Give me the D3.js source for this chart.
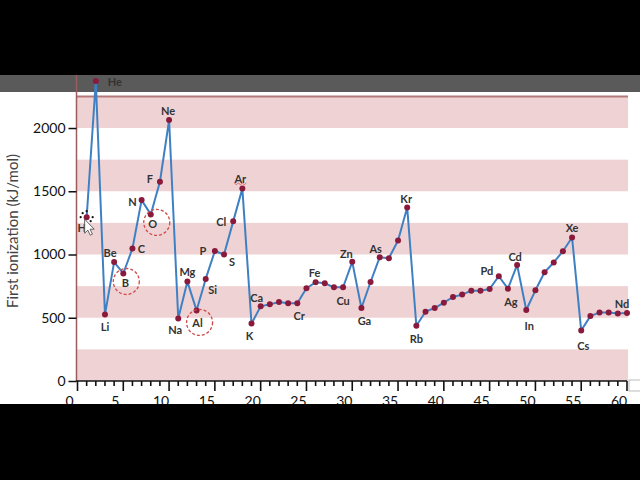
<!DOCTYPE html>
<html>
<head>
<meta charset="utf-8">
<script src="https://cdn.jsdelivr.net/npm/d3@7"></script>
<style>
  html, body { margin: 0; padding: 0; background: #fff; }
  svg { display: block; }
</style>
</head>
<body>
<svg id="chart" width="640" height="480"></svg>
<script>
// ---- data ----
const atomicNumbers = d3.range(1, 61);
const symbols = ["H","He","Li","Be","B","C","N","O","F","Ne",
  "Na","Mg","Al","Si","P","S","Cl","Ar","K","Ca",
  "Sc","Ti","V","Cr","Mn","Fe","Co","Ni","Cu","Zn",
  "Ga","Ge","As","Se","Br","Kr","Rb","Sr","Y","Zr",
  "Nb","Mo","Tc","Ru","Rh","Pd","Ag","Cd","In","Sn",
  "Sb","Te","I","Xe","Cs","Ba","La","Ce","Pr","Nd"];
const energies = [1295,2372,525,940,850,1048,1430,1317,1575,2063,
  494,786,558,807,1028,1000,1262,1521,455,590,
  606,625,614,614,733,780,772,741,741,942,
  577,783,979,971,1111,1371,437,548,577,619,
  664,683,714,714,728,828,730,918,561,717,
  860,937,1026,1135,399,513,542,542,534,537];
const labeledSymbols = ["H","He","Li","Be","B","C","N","O","F","Ne","Na","Mg","Al","Si","P","S","Cl","Ar",
  "K","Ca","Cr","Fe","Cu","Zn","Ga","As","Kr","Rb","Pd","Ag","Cd","In","Xe","Cs","Nd"];
const circledSymbols = ["B","O","Al"];
const yTicks = [0, 500, 1000, 1500, 2000];
const xTicks = [0,5,10,15,20,25,30,35,40,45,50,55,60];
const bandStarts = [0, 500, 1000, 1500, 2000];
const yTitle = "First ionization (kJ/mol)";

// ---- layout / style config (not data) ----
const labelOffset = {
  H:[-5,11], He:[19,1], Li:[0,12], Be:[-4,-9], B:[2,10], C:[9,1], N:[-9,2], O:[2,10], F:[-10,-3], Ne:[-1,-9],
  Na:[-3,11], Mg:[0,-10], Al:[1,13], Si:[7,11], P:[-12,0], S:[8,7], Cl:[-12,1], Ar:[-2,-10],
  K:[-2,13], Ca:[-4,-8], Cr:[2,13], Fe:[-1,-9], Cu:[0,14], Zn:[-6,-8], Ga:[3,13], As:[-4,-8],
  Kr:[-1,-9], Rb:[0,13], Pd:[-12,-5], Ag:[3,13], Cd:[-2,-8], In:[3,16], Xe:[0,-9], Cs:[2,15], Nd:[-5,-9]
};
const circleOffset = { B:[3,8], O:[6,8], Al:[3,12] };

const svg = d3.select("#chart");
const x = d3.scaleLinear().domain([0, 60]).range([77.5, 627]);
const y = d3.scaleLinear().domain([0, 2250]).range([381, 96.4]);

const rows = atomicNumbers.map((n, i) => ({ n, sym: symbols[i], v: energies[i] }));

// background pieces of the video frame
svg.append("rect").attr("x",0).attr("y",0).attr("width",640).attr("height",480).attr("fill","#fff");
svg.append("rect").attr("x",0).attr("y",0).attr("width",640).attr("height",75).attr("fill","#000");
svg.append("rect").attr("x",0).attr("y",75).attr("width",640).attr("height",17).attr("fill","#5a5a5a");

// bands
svg.append("g").selectAll("rect").data(bandStarts).join("rect")
  .attr("x", x(0) - 1).attr("width", x(60) - x(0) + 2)
  .attr("y", d => y(d + 250)).attr("height", d => y(d) - y(d + 250))
  .attr("fill", "#efd3d4");

// top border
svg.append("line").attr("x1", 76).attr("x2", x(60) + 1).attr("y1", y(2250)).attr("y2", y(2250))
  .attr("stroke", "#b57878").attr("stroke-width", 2);
// y axis line
svg.append("line").attr("x1", 76.5).attr("x2", 76.5).attr("y1", 75).attr("y2", y(0))
  .attr("stroke", "#9a5c5c").attr("stroke-width", 1.5);

// y axis ticks + labels
const yAxis = d3.axisLeft(y).tickValues(yTicks).tickSize(8).tickPadding(3).tickFormat(d3.format("d"));
const gy = svg.append("g").attr("transform", "translate(76.5,0)").call(yAxis);
gy.select(".domain").remove();
gy.selectAll(".tick line").attr("stroke", "#111").attr("stroke-width", 1.5);
gy.selectAll(".tick text").attr("fill", "#111").style("font-family", "Lato, 'Open Sans', sans-serif").style("font-size", "14px");

// x axis: minor + major ticks
const minor = d3.range(0, 61);
const gxm = svg.append("g").attr("transform", `translate(0,${y(0)})`);
gxm.append("line").attr("x1", 76).attr("x2", x(60)).attr("y1", 0).attr("y2", 0).attr("stroke", "#111").attr("stroke-width", 1.5);
gxm.selectAll("line.minor").data(minor).join("line").attr("class","minor")
  .attr("x1", d => x(d)).attr("x2", d => x(d)).attr("y1", 0).attr("y2", d => d % 5 === 0 ? 10 : 5)
  .attr("stroke", "#111").attr("stroke-width", 1.6);
gxm.selectAll("text").data(xTicks).join("text")
  .attr("x", d => x(d) - 8).attr("y", 25).attr("text-anchor", "middle")
  .attr("fill", "#111").style("font-family", "Lato, 'Open Sans', sans-serif").style("font-size", "14px")
  .text(d => d);

// y title
svg.append("text").attr("transform", "translate(18,231) rotate(-90)")
  .attr("text-anchor", "middle").attr("fill", "#444")
  .style("font-family", "Lato, 'Open Sans', sans-serif").style("font-size", "15px")
  .text(yTitle);

// line
svg.append("path").datum(rows)
  .attr("d", d3.line().x(d => x(d.n)).y(d => y(d.v)))
  .attr("fill", "none").attr("stroke", "#3f80c4").attr("stroke-width", 2).attr("stroke-linejoin", "round");

// points
svg.append("g").selectAll("circle").data(rows).join("circle")
  .attr("cx", d => x(d.n)).attr("cy", d => y(d.v)).attr("r", 3)
  .attr("fill", "#8a1a3c");

// labels
const lab = rows.filter(d => labeledSymbols.includes(d.sym));
svg.append("g").selectAll("text").data(lab).join("text")
  .attr("x", d => x(d.n) + labelOffset[d.sym][0])
  .attr("y", d => y(d.v) + labelOffset[d.sym][1] + 4)
  .attr("text-anchor", "middle").attr("fill", "#333")
  .style("font-family", "Lato, 'Open Sans', sans-serif").style("font-size", "11px").style("font-weight", "bold")
  .text(d => d.sym);

// dashed circles
const circ = rows.filter(d => circledSymbols.includes(d.sym));
svg.append("g").selectAll("circle").data(circ).join("circle")
  .attr("cx", d => x(d.n) + circleOffset[d.sym][0]).attr("cy", d => y(d.v) + circleOffset[d.sym][1])
  .attr("r", 13).attr("fill", "none").attr("stroke", "#d04848").attr("stroke-width", 1.3)
  .attr("stroke-dasharray", "3,2");

// squiggle under Ar
const ar = rows.find(d => d.sym === "Ar");
const sq = d3.range(0, 7).map(i => [x(ar.n) - 8 + i * 2, y(ar.v) - 5 + (i % 2 ? 1 : -0.5)]);
svg.append("path").attr("d", d3.line()(sq)).attr("fill", "none").attr("stroke", "#e05555").attr("stroke-width", 0.9);

// mouse pointer over the H point (from the video frame)
const h = rows[0];
const hx = x(h.n), hy = y(h.v);
svg.append("g").selectAll("circle").data([[-6,0],[6,0],[0,-6],[0,6],[-4,-4],[4,4]]).join("circle")
  .attr("cx", d => hx + d[0]).attr("cy", d => hy + d[1]).attr("r", 1.1).attr("fill", "#111");
const arrow = [[0,0],[0,14],[3.2,11],[5.6,16],[7.8,15],[5.4,10],[9.5,10]];
svg.append("path").attr("d", d3.line()(arrow) + "Z")
  .attr("transform", `translate(${hx - 2},${hy + 2})`)
  .attr("fill", "#fff").attr("stroke", "#555").attr("stroke-width", 0.9);

// small box at right edge
svg.append("rect").attr("x", 629).attr("y", 380).attr("width", 14).attr("height", 11)
  .attr("fill", "none").attr("stroke", "#bbb").attr("stroke-width", 1);

// bottom black band
svg.append("rect").attr("x",0).attr("y",404).attr("width",640).attr("height",76).attr("fill","#000");
</script>
</body>
</html>
